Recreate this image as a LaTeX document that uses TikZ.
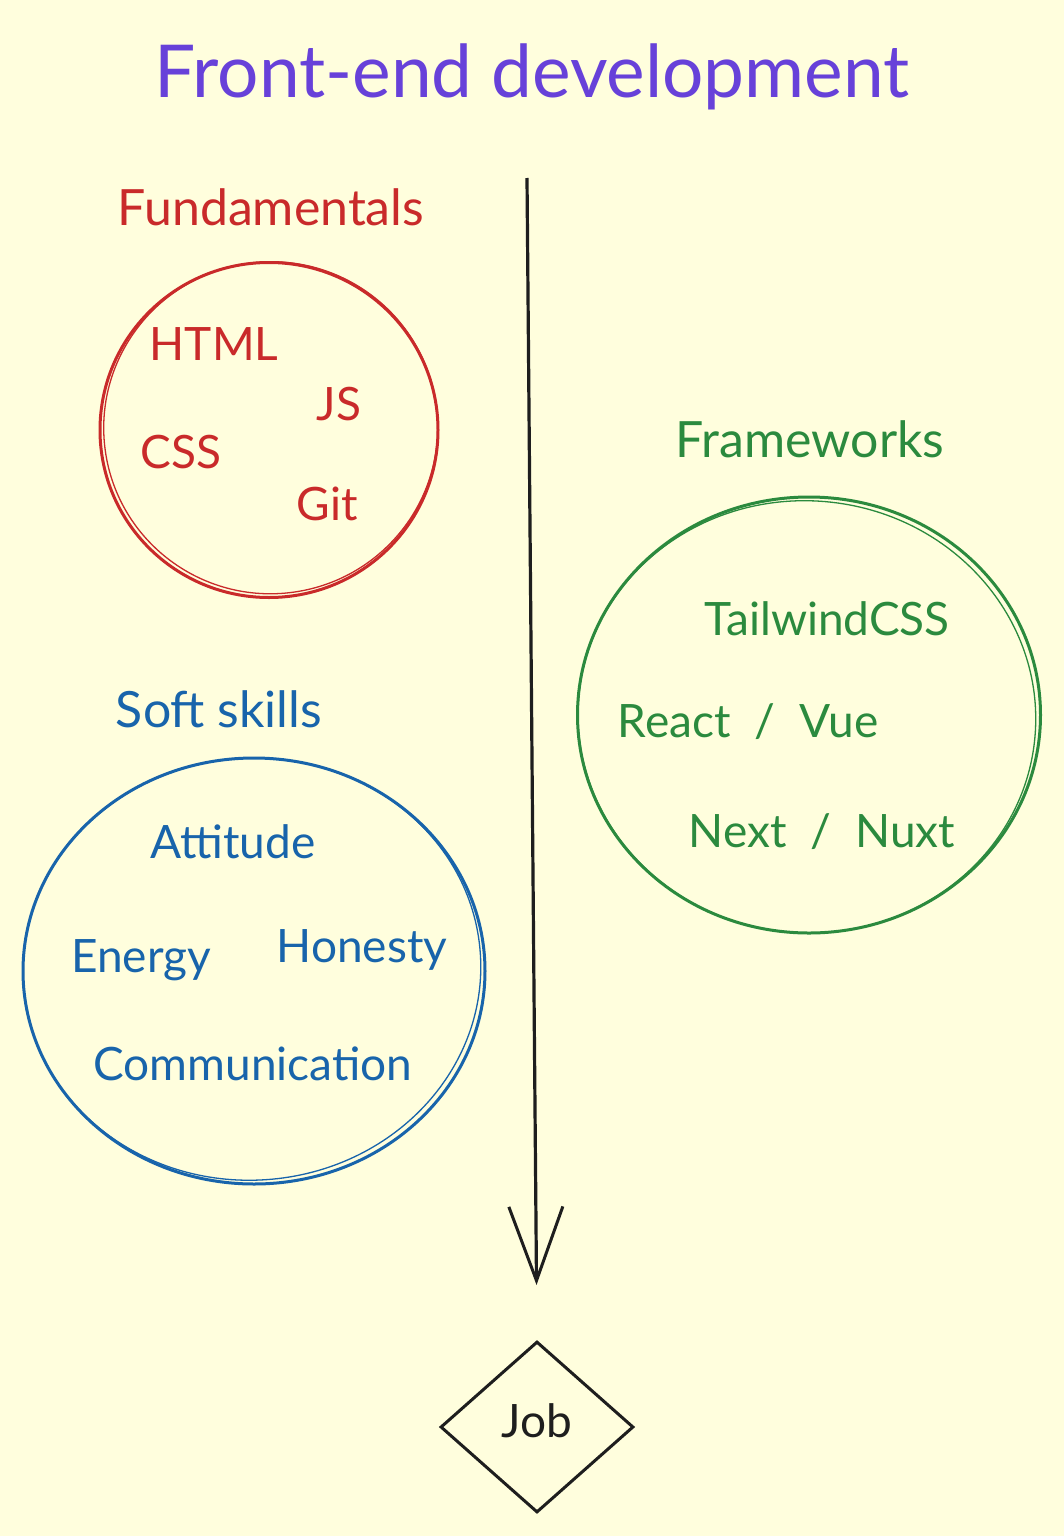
\documentclass[tikz,border=0pt]{standalone}
\usepackage{fontspec}
\setmainfont{Lato}
\usetikzlibrary{shapes.geometric,arrows.meta}
\definecolor{bgc}{HTML}{FFFEDD}
\definecolor{titlec}{HTML}{6741D9}
\definecolor{redc}{HTML}{C92A2A}
\definecolor{bluec}{HTML}{1864AB}
\definecolor{greenc}{HTML}{2B8A3E}
\definecolor{inkc}{HTML}{1E1E1E}
\tikzset{
  lbl/.style={anchor=base, inner sep=0pt, font=\fontsize{46}{52}\selectfont},
  head/.style={anchor=base, inner sep=0pt, font=\fontsize{50}{56}\selectfont},
  ring/.style={ellipse, draw=#1, line width=3pt, inner sep=0pt},
  sketch/.style={draw=#1, line width=1.3pt},
}
\begin{document}
\begin{tikzpicture}[x=1pt,y=-1pt]
\useasboundingbox[fill=bgc] (0,0) rectangle (1064,1536);

% title
\node[anchor=base, inner sep=0pt, text=titlec, font=\fontsize{73}{84}\selectfont] (title) at (532,98) {Front-end development};

% fundamentals
\node[head, text=redc] (fundh) at (271,225) {Fundamentals};
\node[ring=redc, minimum width=338pt, minimum height=335pt] (fund) at (269,430) {};
\draw[sketch=redc, rotate around={8:(269,430)}] (271,428) ellipse [x radius=167, y radius=166];
\node[lbl, text=redc] (html) at (214,360) {HTML};
\node[lbl, text=redc] (js) at (339,420) {JS};
\node[lbl, text=redc] (css) at (181,468) {CSS};
\node[lbl, text=redc] (git) at (327,520) {Git};

% soft skills
\node[head, text=bluec] (softh) at (219,727) {Soft skills};
\node[ring=bluec, minimum width=462pt, minimum height=426pt] (soft) at (254,971) {};
\draw[sketch=bluec, rotate around={4:(254,971)}] (252,969) ellipse [x radius=229, y radius=211];
\node[lbl, text=bluec] (att) at (233,858) {Attitude};
\node[lbl, text=bluec] (energy) at (141,972) {Energy};
\node[lbl, text=bluec] (honesty) at (362,962) {Honesty};
\node[lbl, text=bluec] (comm) at (253,1080) {Communication};

% frameworks
\node[head, text=greenc] (frameh) at (810,457) {Frameworks};
\node[ring=greenc, minimum width=463pt, minimum height=436pt] (frame) at (809,715) {};
\draw[sketch=greenc, rotate around={-5:(809,715)}] (807,717) ellipse [x radius=229, y radius=216];
\node[lbl, text=greenc] (tw) at (827,635) {TailwindCSS};
\node[lbl, text=greenc] (rv) at (748,737) {React\hspace{24pt}/\hspace{24pt}Vue};
\node[lbl, text=greenc] (nn) at (822,847) {Next\hspace{24pt}/\hspace{24pt}Nuxt};

% flow
\coordinate (start) at (527,178);
\node[diamond, draw=inkc, line width=3pt, minimum width=193pt, minimum height=171pt, inner sep=0pt] (job) at (537,1427) {};
\node[lbl, text=inkc] (jobt) at (537,1437) {Job};
\draw[inkc, line width=3.2pt, -{Straight Barb[length=74pt, width=54pt, line width=3pt]}, shorten >=55pt] (start) -- (job.north);
\end{tikzpicture}
\end{document}
